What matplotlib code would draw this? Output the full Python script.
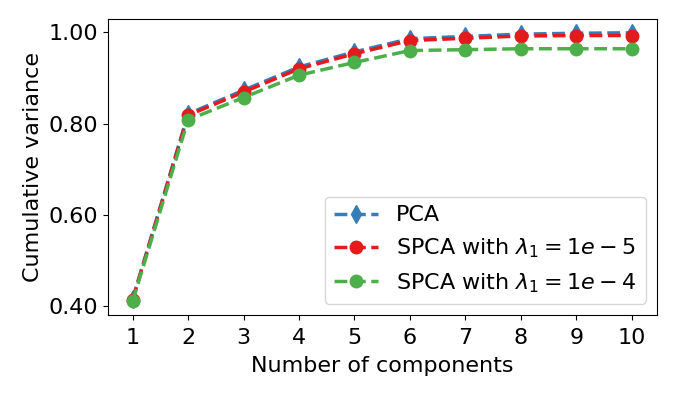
import matplotlib
matplotlib.use("Agg")
import matplotlib.pyplot as plt

### values
components = [1, 2, 3, 4, 5, 6, 7, 8, 9, 10]
pca = [0.415, 0.821, 0.873, 0.924, 0.957, 0.986, 0.991, 0.996, 0.998, 0.999]
spca_1e5 = [0.413, 0.818, 0.869, 0.920, 0.953, 0.982, 0.987, 0.992, 0.993, 0.993]
spca_1e4 = [0.410, 0.808, 0.857, 0.906, 0.934, 0.960, 0.962, 0.964, 0.964, 0.964]
yticks = [0.40, 0.60, 0.80, 1.00]

plt.rcParams['font.size'] = 16

fig = plt.figure(figsize=(6.77, 3.95), dpi=100)
ax = fig.add_axes([0.159, 0.203, 0.811, 0.748])

ax.plot(components, pca, linestyle="--", marker="d", color="#377eb8",
        linewidth=2.5, markersize=9, label="PCA")
ax.plot(components, spca_1e5, linestyle="--", marker="o", color="#e41a1c",
        linewidth=2.5, markersize=9, label=r"SPCA with $\lambda_1 = 1e-5$")
ax.plot(components, spca_1e4, linestyle="--", marker="o", color="#4daf4a",
        linewidth=2.5, markersize=9, label=r"SPCA with $\lambda_1 = 1e-4$")

ax.set_xticks(components)
ax.set_yticks(yticks)
ax.set_yticklabels(["%.2f" % v for v in yticks])
ax.tick_params(axis="x", pad=6)
ax.set_xlabel("Number of components", labelpad=6)
ax.set_ylabel("Cumulative variance")
ax.legend(loc="lower right")

fig.savefig("out.png", dpi=100)
